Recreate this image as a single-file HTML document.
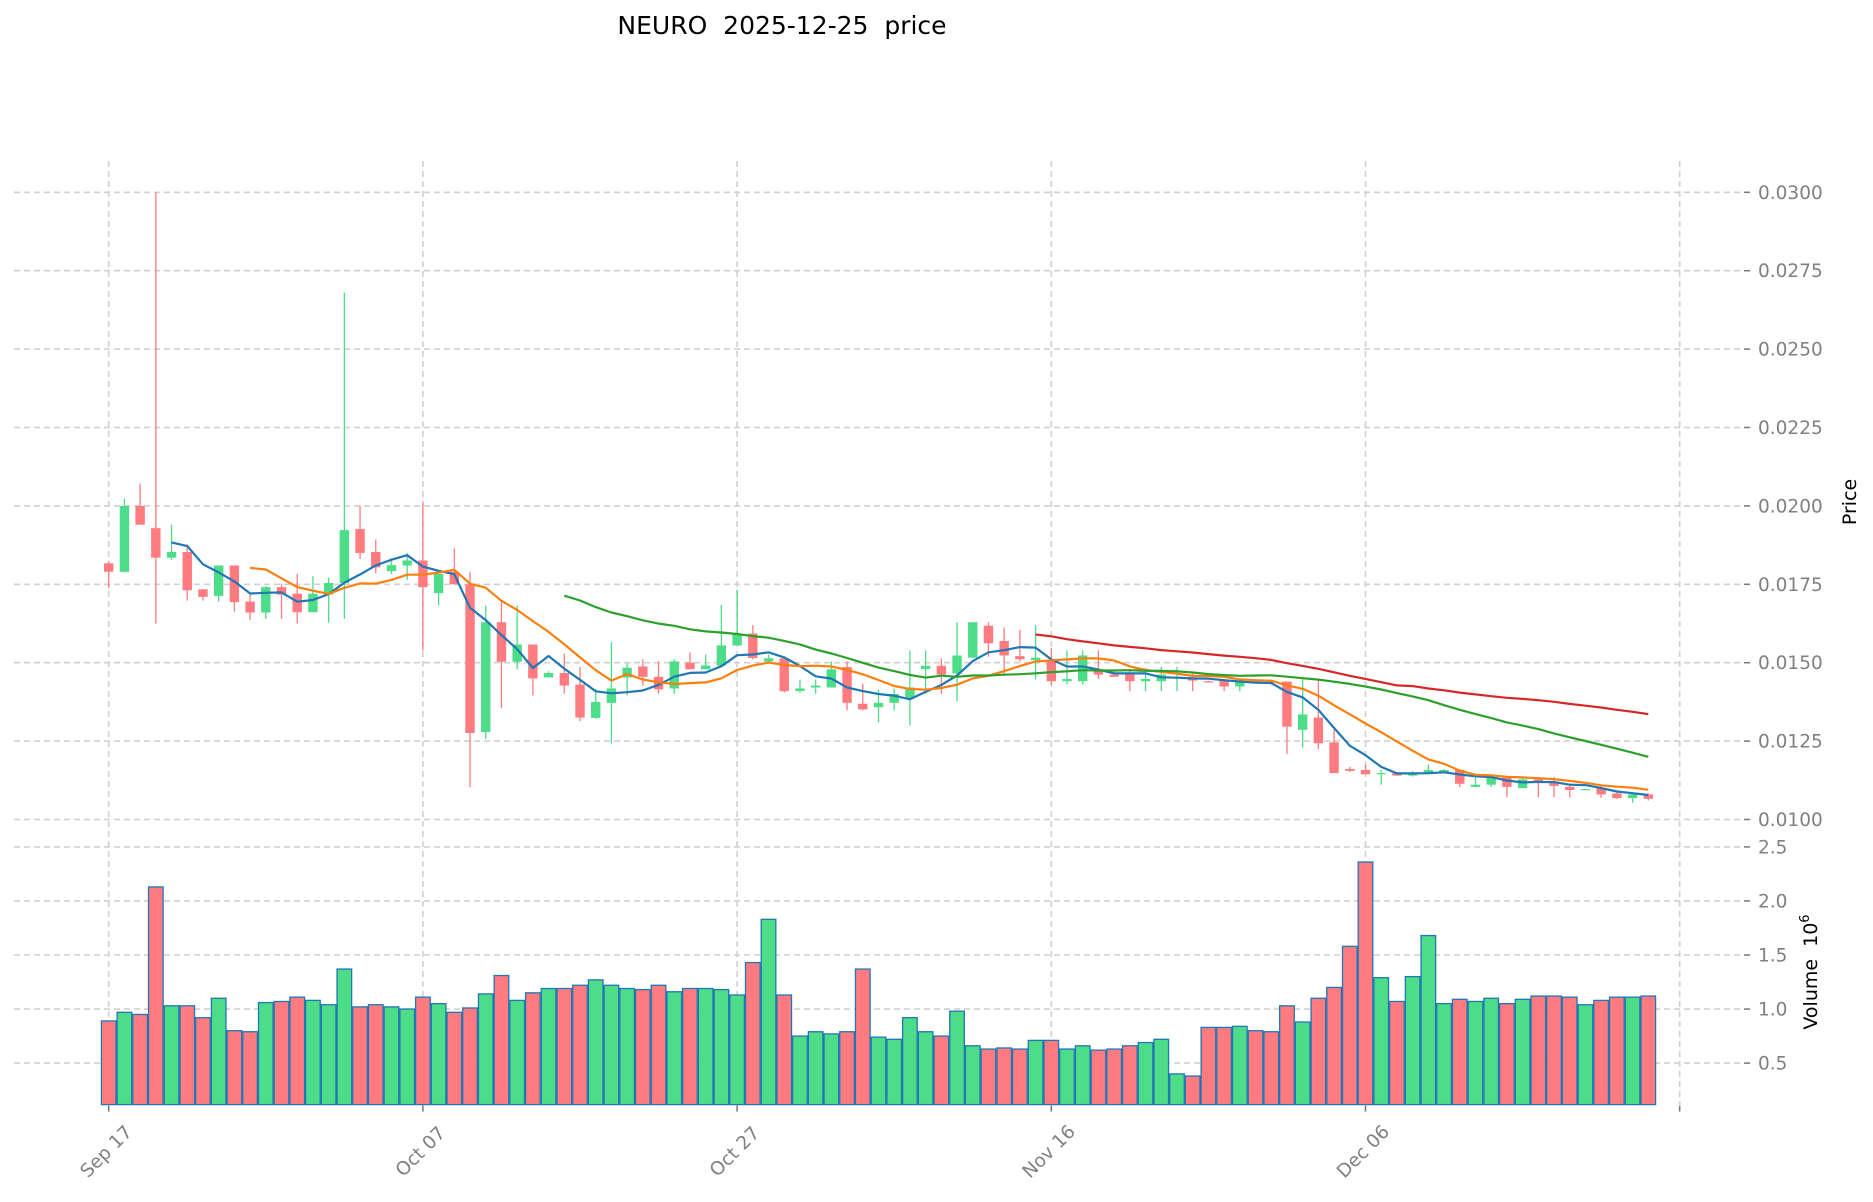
<!DOCTYPE html>
<html><head><meta charset="utf-8">
<style>
html,body{margin:0;padding:0;background:#fff;}
svg{display:block;font-family:"DejaVu Sans","Liberation Sans",sans-serif;}
.pre{white-space:pre;}
</style></head>
<body>
<svg id="chart" width="1873" height="1202" viewBox="0 0 1873 1202" xmlns="http://www.w3.org/2000/svg">
  <text class="pre" xml:space="preserve" x="782" y="34" font-size="25" text-anchor="middle" fill="#000">NEURO  2025-12-25  price</text>
  <g id="grid"></g>
  <g id="vol"></g>
  <g id="candles"></g>
  <g id="mas"></g>
  <g id="axes"></g>
  <text transform="translate(1856,502) rotate(-90)" font-size="19" text-anchor="middle" fill="#000">Price</text>
  <text class="pre" xml:space="preserve" transform="translate(1817,972) rotate(-90)" font-size="19" text-anchor="middle" fill="#000">Volume  10<tspan font-size="13" dy="-8">6</tspan></text>
</svg>
<script>
const opens=[.01817,.0179,.0200,.01929,.01835,.01853,.01734,.01713,.0181,.01695,.0166,.01741,.0172,.01661,.01717,.01754,.01926,.01853,.01792,.0181,.01826,.01722,.0179,.0175,.01279,.01629,.01503,.01558,.01453,.01467,.0143,.01324,.01372,.01453,.01488,.01455,.01418,.015,.01479,.01491,.01555,.01593,.01504,.01514,.0141,.01421,.01421,.01486,.01369,.01358,.01372,.01386,.0148,.0149,.01466,.01516,.01618,.01569,.01521,.01508,.01508,.01441,.01441,.01476,.01462,.01466,.01441,.01441,.01452,.01452,.01441,.01443,.01424,.01441,.01441,.0144,.01286,.01325,.01246,.01161,.01158,.01145,.01148,.0114,.01148,.01151,.01158,.01104,.01111,.01133,.011,.01128,.01121,.01104,.01094,.01101,.01083,.01068,.0108];
const closes=[.0179,.0200,.0194,.01835,.01853,.01731,.0171,.0181,.01693,.0166,.01741,.01717,.01661,.0172,.01754,.01923,.0185,.01804,.01811,.01826,.01741,.01783,.0175,.01276,.01629,.01503,.01558,.0145,.01467,.01427,.01325,.01375,.01418,.01484,.01455,.01415,.01504,.01479,.01491,.01555,.01591,.01515,.01514,.01409,.01418,.01427,.01479,.01372,.01351,.01372,.014,.01421,.0149,.01462,.01523,.01629,.01562,.01523,.01511,.01516,.01441,.01448,.01523,.01462,.01455,.01441,.01448,.01462,.01455,.01443,.01437,.01424,.01441,.01437,.01437,.01296,.01335,.01243,.01148,.01155,.01144,.01148,.0114,.01148,.01158,.01158,.01114,.01111,.01135,.01104,.01128,.01122,.01107,.01094,.01097,.0108,.01068,.0108,.01066];
const highs=[.01824,.02023,.02071,.0300,.0194,.01877,.01734,.0181,.0181,.01717,.01745,.01752,.01783,.01776,.01771,.0268,.0200,.01893,.01833,.0185,.0201,.01783,.01864,.0179,.01682,.01694,.01682,.01558,.01473,.01529,.01486,.01416,.01566,.01498,.01511,.01504,.01511,.01533,.01526,.01684,.01732,.0162,.01526,.01518,.01446,.01446,.01504,.01504,.01433,.01415,.01418,.01539,.01539,.01514,.01629,.01629,.01629,.01612,.01605,.0162,.01547,.01539,.01539,.01539,.01476,.01476,.01483,.01486,.01486,.01466,.01443,.01448,.01448,.01445,.01445,.0144,.01447,.01447,.01286,.01168,.01175,.01158,.01151,.01154,.01175,.01161,.01161,.01136,.01136,.01136,.01136,.01136,.01136,.01111,.01097,.01107,.01093,.01083,.01083];
const lows=[.01739,.01788,.0194,.01625,.01828,.01698,.01698,.01695,.01663,.01636,.0164,.0164,.01625,.01661,.01628,.0164,.01831,.01785,.01783,.01764,.01539,.01683,.0175,.01103,.01257,.01355,.01479,.01396,.01453,.01401,.01314,.01321,.01243,.01396,.01427,.01401,.01401,.01479,.01479,.01491,.01555,.01511,.01504,.01405,.01404,.01401,.01421,.01348,.01348,.0131,.01348,.0130,.01401,.01401,.01377,.01516,.01519,.01458,.01504,.01446,.0143,.0143,.0143,.01448,.01455,.01409,.01409,.01409,.01409,.01409,.01437,.01409,.01409,.01433,.01433,.01209,.01229,.01225,.01148,.01151,.01144,.01111,.0114,.01137,.01144,.01151,.01103,.01104,.01104,.01071,.011,.01071,.01071,.01071,.01094,.0107,.01066,.01053,.0106];
const volumes=[0.89,0.97,0.95,2.13,1.03,1.03,0.92,1.10,0.80,0.79,1.06,1.07,1.11,1.08,1.04,1.37,1.02,1.04,1.02,1.00,1.11,1.05,0.97,1.01,1.14,1.31,1.08,1.15,1.19,1.19,1.22,1.27,1.22,1.19,1.18,1.22,1.16,1.19,1.19,1.18,1.13,1.43,1.83,1.13,0.75,0.79,0.77,0.79,1.37,0.74,0.72,0.92,0.79,0.75,0.98,0.66,0.63,0.64,0.63,0.71,0.71,0.63,0.66,0.62,0.63,0.66,0.69,0.72,0.40,0.38,0.83,0.83,0.84,0.80,0.79,1.03,0.88,1.10,1.20,1.58,2.36,1.29,1.07,1.30,1.68,1.05,1.09,1.07,1.10,1.05,1.09,1.12,1.12,1.11,1.04,1.08,1.11,1.11,1.12];
const maWindows=[5,10,30,60];
const maColors=["#1f77b4","#ff7f0e","#2ca02c","#d62728"];
const xTickLabels=["Sep 17","Oct 07","Oct 27","Nov 16","Dec 06",""];
const xTickIndex=[0,20,40,60,80,100];
const priceTicks=[0.0100,0.0125,0.0150,0.0175,0.0200,0.0225,0.0250,0.0275,0.0300];
const volTicks=[0.5,1.0,1.5,2.0,2.5];

const NS="http://www.w3.org/2000/svg";
const X0=108.7, DX=15.71, LEFT=14, RIGHT=1744, PTOP=161, PBOT=833, VTOP=845, VBOT=1104.6;
const xOf=i=>X0+i*DX;
const yP=p=>192.3+(0.03-p)*31360;
const yV=v=>846.9+(2.5-v)*108.1;
const UP="#4ddc88", DOWN="#ff7b80";
function mk(tag,attrs,parent){const e=document.createElementNS(NS,tag);for(const k in attrs)e.setAttribute(k,attrs[k]);parent.appendChild(e);return e;}
const grid=document.getElementById('grid'), vol=document.getElementById('vol'), cg=document.getElementById('candles'), mg=document.getElementById('mas'), ax=document.getElementById('axes');
const dash={stroke:"#d0d0d0","stroke-width":1.6,"stroke-dasharray":"6,4",fill:"none"};

priceTicks.forEach(p=>{
  const y=yP(p);
  const l=mk('line',Object.assign({x1:LEFT,x2:RIGHT,y1:y,y2:y},dash),grid);
  
  
  mk('line',{x1:RIGHT,x2:RIGHT+6,y1:y,y2:y,stroke:"#777","stroke-width":1.5},ax);
  const t=mk('text',{x:1758,y:y+6.5,"font-size":18.5,fill:"#808080"},ax);
  t.textContent=p.toFixed(4);
  
  
});
volTicks.forEach(v=>{
  const y=yV(v);
  const l=mk('line',Object.assign({x1:LEFT,x2:RIGHT,y1:y,y2:y},dash),grid);
  
  
  mk('line',{x1:RIGHT,x2:RIGHT+6,y1:y,y2:y,stroke:"#777","stroke-width":1.5},ax);
  const t=mk('text',{x:1758,y:y+6.5,"font-size":18.5,fill:"#808080"},ax);
  t.textContent=v.toFixed(1);
  
  
});
xTickIndex.forEach((idx,k)=>{
  const x=xOf(idx);
  const l=mk('line',Object.assign({x1:x,x2:x,y1:PTOP,y2:VBOT},dash),grid);
  
  
  mk('line',{x1:x,x2:x,y1:VBOT+1,y2:VBOT+7,stroke:"#777","stroke-width":1.5},ax);
  if(xTickLabels[k]){
    const t=mk('text',{x:0,y:0,"font-size":18.5,fill:"#808080","text-anchor":"middle","dominant-baseline":"central",transform:`translate(${x-2},${1152}) rotate(-45)`},ax);
    t.textContent=xTickLabels[k];
    
    
  }
});

volumes.forEach((v,i)=>{
  const up=closes[i]>=opens[i];
  const y=yV(v);
  const r=mk('rect',{x:xOf(i)-7.3,y:y,width:14.6,height:VBOT-y,fill:up?UP:DOWN,stroke:"#1f77b4","stroke-width":1.3},vol);
  
  
});

opens.forEach((o,i)=>{
  const c=closes[i], up=c>=o, col=up?UP:DOWN, x=xOf(i);
  const w=mk('line',{x1:x,x2:x,y1:yP(highs[i]),y2:yP(lows[i]),stroke:col,"stroke-width":1.3},cg);
  
  
  const top=yP(Math.max(o,c)), bot=yP(Math.min(o,c));
  const b=mk('rect',{x:x-4.7,y:top,width:9.4,height:Math.max(bot-top,1.2),fill:col},cg);
  
  
});

maWindows.forEach((w,k)=>{
  const pts=[];
  for(let i=w-1;i<closes.length;i++){
    let s=0;for(let j=i-w+1;j<=i;j++)s+=closes[j];
    pts.push(xOf(i).toFixed(1)+","+yP(s/w).toFixed(1));
  }
  const pl=mk('polyline',{points:pts.join(" "),fill:"none",stroke:maColors[k],"stroke-width":2.2,"stroke-linejoin":"round"},mg);
  
  
});
</script>
</body></html>
